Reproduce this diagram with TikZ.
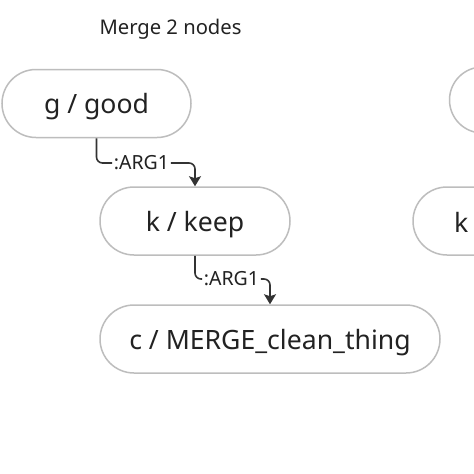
\documentclass[tikz,border=0pt]{standalone}
\usepackage{fontspec}
\setmainfont{Noto Sans}
\usetikzlibrary{arrows.meta}
\definecolor{nodeborder}{HTML}{BDBDBD}
\definecolor{edgecol}{HTML}{333333}
\definecolor{txt}{HTML}{222222}
\tikzset{
  amrnode/.style={draw=nodeborder, line width=1.5pt, rounded corners=34pt, minimum height=68pt, inner sep=0pt, text=txt, font=\fontsize{26.6}{30}\selectfont, fill=white, text height=20pt, text depth=0pt},
  edgelabel/.style={inner sep=1.5pt, text=txt, font=\fontsize{19.5}{22}\selectfont},
  amredge/.style={draw=edgecol, line width=1.6pt, rounded corners=6pt},
  arrowedge/.style={amredge, -{Stealth[length=10pt,width=12pt,inset=2pt]}}
}
\begin{document}
\begin{tikzpicture}[x=1pt,y=-1pt]
\useasboundingbox (0,0) rectangle (474,474);
\clip (0,0) rectangle (474,474);
\fill[white] (0,0) rectangle (474,474);
\node[text=txt, font=\fontsize{20.2}{24}\selectfont] (title) at (170.5,29) {Merge 2 nodes};
\node[amrnode, minimum width=189pt] (g) at (96.5,103.5) {g / good};
\node[amrnode, minimum width=190pt] (k) at (195,221) {k / keep};
\node[amrnode, minimum width=340pt] (c) at (270,339) {c / MERGE\_clean\_thing};
\node[amrnode, minimum width=189pt, minimum height=66pt, rounded corners=33pt] (g2) at (544,100) {};
\node[amrnode, minimum width=190pt] (k2) at (508,221) {};
\node[text=txt, font=\fontsize{26.6}{30}\selectfont, anchor=west, inner sep=0pt] (k2text) at (454,222) {k};
\node[edgelabel] (l1) at (141.5,163) {:ARG1};
\node[edgelabel] (l2) at (231.5,279) {:ARG1};
\draw[amredge] (g.south) |- (l1.west);
\draw[arrowedge] (l1.east) -| (k.north);
\draw[amredge] (k.south) |- (l2.west);
\draw[arrowedge] (l2.east) -| (c.north);
\end{tikzpicture}
\end{document}
